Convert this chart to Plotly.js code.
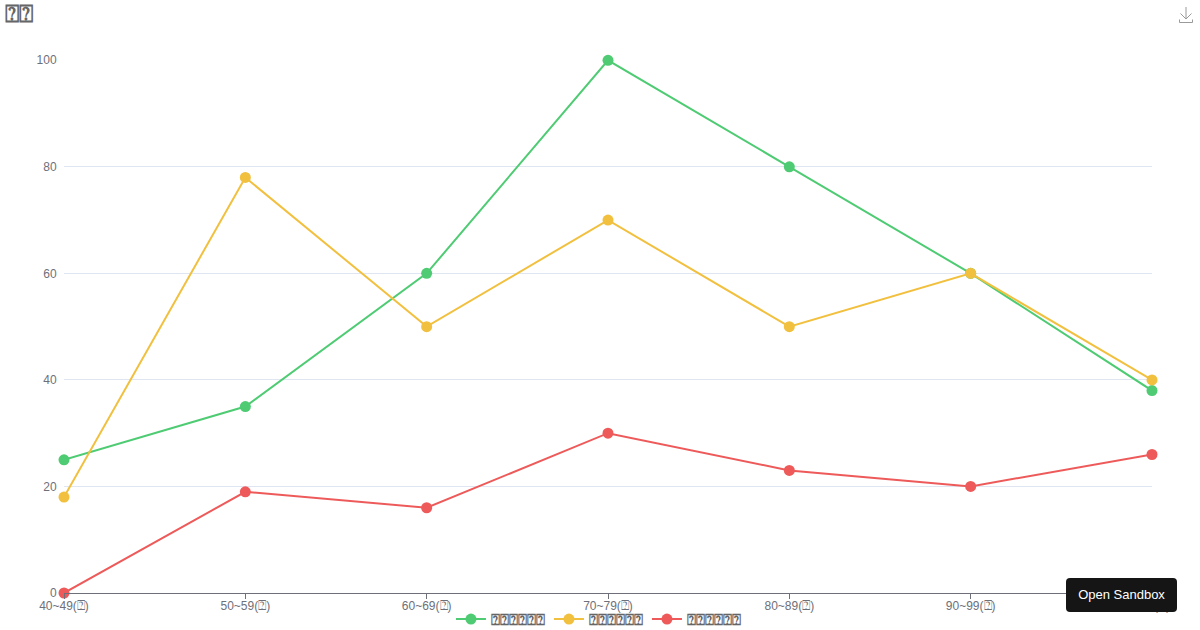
<!DOCTYPE html>
<html>
<head>
<meta charset="utf-8">
<script src="https://cdn.plot.ly/plotly-3.0.1.min.js"></script>
<style>
html,body{margin:0;padding:0;background:#fff;overflow:hidden}
#chart{position:absolute;left:0;top:0;width:1200px;height:630px}
#sandbox{position:absolute;left:1066px;top:578px;width:111px;height:34px;background:#151515;color:#fff;border-radius:4px;font:13px/34px "Liberation Sans",Arial,sans-serif;text-align:center}
#dl{position:absolute;left:1177px;top:6px}
</style>
</head>
<body>
<div id="chart"></div>
<svg id="dl" width="18" height="18" viewBox="0 0 18 18" fill="none" stroke="#9a9a9a" stroke-width="1"><path d="M9 1V13M3.5 7.5L9 13L14.5 7.5M2.5 13.5V16.5H15.5V13.5"/></svg>
<div id="sandbox">Open Sandbox</div>
<script>
var G = '\u2370';
var T = '<span style="font-size:14px">' + G + '</span>';
var titleText = G + G;
var categories = ['40~49(' + T + ')', '50~59(' + T + ')', '60~69(' + T + ')', '70~79(' + T + ')', '80~89(' + T + ')', '90~99(' + T + ')', '100(' + T + ')'];
var seriesName = G + G + G + G + G + G;
var greenValues = [25, 35, 60, 100, 80, 60, 38];
var yellowValues = [18, 78, 50, 70, 50, 60, 40];
var redValues = [0, 19, 16, 30, 23, 20, 26];
var yTicks = [0, 20, 40, 60, 80, 100];

function line(y, color, name) {
  return {
    x: categories, y: y, name: name, type: 'scatter', mode: 'lines+markers',
    line: {color: color, width: 2},
    marker: {color: color, size: 11},
    cliponaxis: false
  };
}
var fontFam = '"Liberation Sans", "DejaVu Sans", sans-serif';
Plotly.newPlot('chart', [
  line(greenValues, '#4ecb73', seriesName),
  line(yellowValues, '#f2c03f', seriesName),
  line(redValues, '#ee5a5a', seriesName)
], {
  width: 1200, height: 630,
  paper_bgcolor: '#fff', plot_bgcolor: '#fff',
  margin: {l: 64, r: 48, t: 60, b: 37, pad: 0},
  title: {text: titleText, x: 0, xref: 'container', xanchor: 'left', y: 0.978, yanchor: 'middle', pad: {l: 5},
          font: {family: fontFam, size: 24, color: '#666', weight: 'bold'}},
  showlegend: true,
  legend: {orientation: 'h', x: 0.4983, xref: 'container', xanchor: 'center', y: 0.017, yref: 'container', yanchor: 'middle',
           font: {family: fontFam, size: 15, color: '#666', weight: 'bold'}, itemwidth: 30, entrywidth: 53, entrywidthmode: 'pixels',
           traceorder: 'normal', bgcolor: 'rgba(0,0,0,0)'},
  xaxis: {type: 'category', range: [0, 6], autorange: false, showgrid: false, zeroline: false,
          showline: true, linecolor: '#6e7079', linewidth: 1, ticks: 'outside', ticklen: 5, tickcolor: '#6e7079', tickwidth: 1,
          ticklabelstandoff: -3, tickangle: 0, tickfont: {family: fontFam, size: 12, color: '#6e7079'}},
  yaxis: {range: [0, 100.05], autorange: false, tickvals: yTicks, ticktext: yTicks.map(String),
          showgrid: true, gridcolor: '#e0e6f1', gridwidth: 1, zeroline: false, showline: false,
          ticks: 'outside', ticklen: 4, tickcolor: 'rgba(0,0,0,0)',
          tickfont: {family: fontFam, size: 12, color: '#6e7079'}}
}, {displayModeBar: false, staticPlot: true});
</script>
</body>
</html>
